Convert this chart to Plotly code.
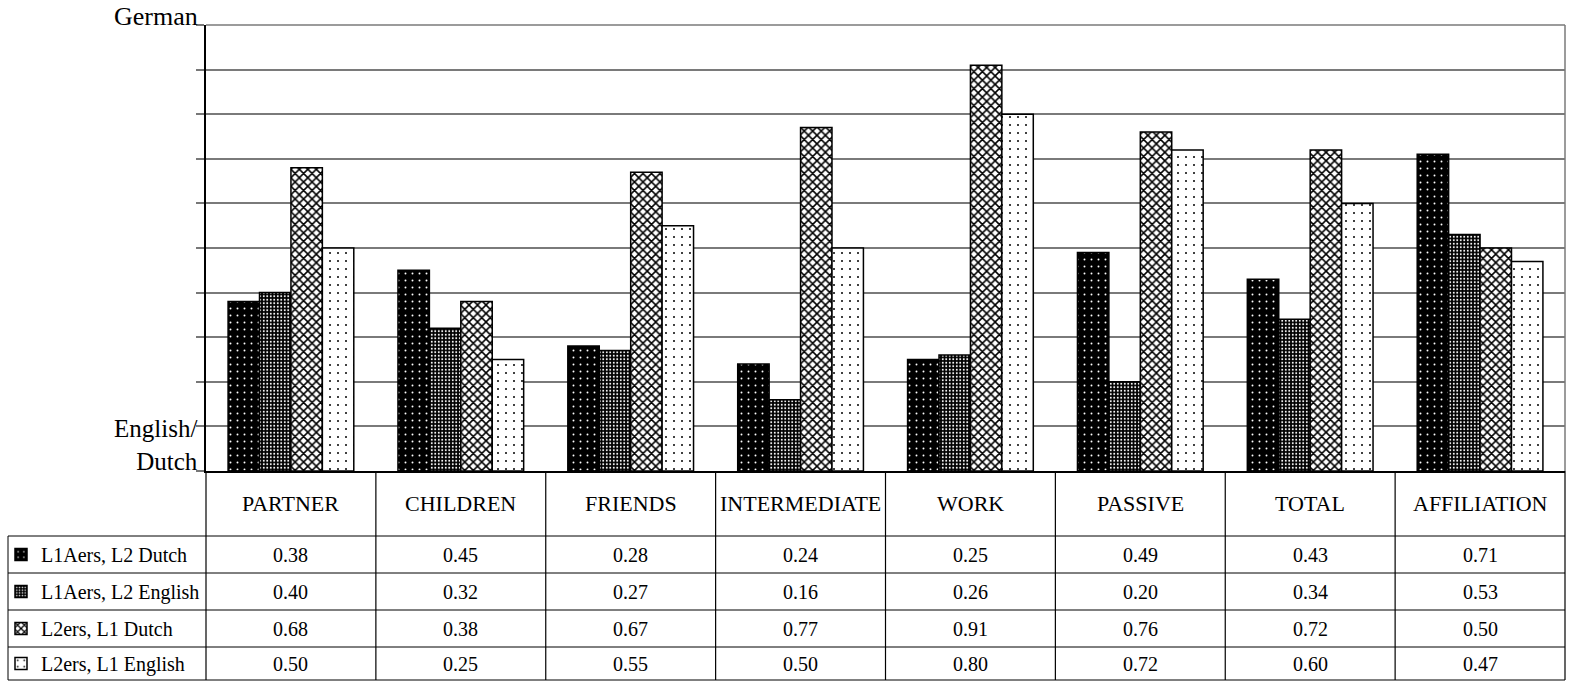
import plotly.graph_objects as go

categories = ["PARTNER", "CHILDREN", "FRIENDS", "INTERMEDIATE", "WORK", "PASSIVE", "TOTAL", "AFFILIATION"]
series_names = ["L1Aers, L2 Dutch", "L1Aers, L2 English", "L2ers, L1 Dutch", "L2ers, L1 English"]
l1a_l2_dutch = [0.38, 0.45, 0.28, 0.24, 0.25, 0.49, 0.43, 0.71]
l1a_l2_english = [0.40, 0.32, 0.27, 0.16, 0.26, 0.20, 0.34, 0.53]
l2_l1_dutch = [0.68, 0.38, 0.67, 0.77, 0.91, 0.76, 0.72, 0.50]
l2_l1_english = [0.50, 0.25, 0.55, 0.50, 0.80, 0.72, 0.60, 0.47]
series_values = [l1a_l2_dutch, l1a_l2_english, l2_l1_dutch, l2_l1_english]
y_top_label = "German"
y_bottom_label = "English/<br>Dutch"

W, H = 1569, 681
L, R, T, B = 206, 1565, 25, 471
FONT = "Liberation Serif"


def px_x(p):
    return (p - L) / (R - L)


def px_y(p):
    return (B - p) / (B - T)


patterns = [
    dict(shape=".", bgcolor="black", fgcolor="white", size=7, solidity=0.06, fillmode="replace"),
    dict(shape=".", bgcolor="black", fgcolor="white", size=3.5, solidity=0.25, fillmode="replace"),
    dict(shape="x", bgcolor="white", fgcolor="black", size=6, solidity=0.45, fillmode="replace"),
    dict(shape=".", bgcolor="white", fgcolor="black", size=8, solidity=0.05, fillmode="replace"),
]

row_centers = [554.5, 591.5, 628.5, 663.5]

fig = go.Figure()
for i, (name, vals) in enumerate(zip(series_names, series_values)):
    fig.add_trace(go.Bar(
        x=categories, y=vals, name=name,
        marker=dict(color="white", pattern=patterns[i], line=dict(color="black", width=1.5)),
        legend="legend" if i == 0 else f"legend{i+1}",
    ))

legend_common = dict(
    xanchor="left", yanchor="middle", bgcolor="rgba(0,0,0,0)", borderwidth=0,
    font=dict(family=FONT, size=20, color="black"), itemclick=False, itemdoubleclick=False,
)
layout_legends = {}
for i in range(4):
    key = "legend" if i == 0 else f"legend{i+1}"
    layout_legends[key] = dict(x=px_x(1), y=px_y(row_centers[i]), **legend_common)

fig.update_layout(
    width=W, height=H,
    margin=dict(l=L, r=W - R, t=T, b=H - B, pad=0, autoexpand=False),
    paper_bgcolor="white", plot_bgcolor="white",
    barmode="group", bargap=0.26, bargroupgap=0,
    showlegend=True,
    font=dict(family=FONT, color="black"),
    xaxis=dict(showticklabels=False, ticks="", showgrid=False, showline=True,
               linecolor="black", linewidth=2, range=[-0.5, len(categories) - 0.5]),
    yaxis=dict(range=[0, 1], tickvals=[i / 10 for i in range(11)], showticklabels=False,
               ticks="outside", ticklen=8, tickcolor="#777777", tickwidth=1.5,
               showgrid=True, gridcolor="#7a7a7a", gridwidth=1.5,
               showline=True, linecolor="black", linewidth=1.5, zeroline=False),
    **layout_legends,
)

shapes = []
shapes.append(dict(type="line", xref="paper", yref="paper", x0=0, x1=1, y0=1, y1=1,
                   line=dict(color="#7a7a7a", width=1.5)))
shapes.append(dict(type="line", xref="paper", yref="paper", x0=1, x1=1, y0=0, y1=1,
                   line=dict(color="#7a7a7a", width=1.5)))
for yy in [536, 573, 610, 647, 680]:
    shapes.append(dict(type="line", xref="paper", yref="paper", x0=px_x(8), x1=1,
                       y0=px_y(yy), y1=px_y(yy), line=dict(color="black", width=1)))
n = len(categories)
for k in range(n + 1):
    xx = k / n
    shapes.append(dict(type="line", xref="paper", yref="paper", x0=xx, x1=xx,
                       y0=0, y1=px_y(680), line=dict(color="black", width=1.2)))
shapes.append(dict(type="line", xref="paper", yref="paper", x0=px_x(8), x1=px_x(8),
                   y0=px_y(536), y1=px_y(680), line=dict(color="black", width=1)))
fig.update_layout(shapes=shapes)

ann = []
for c in categories:
    ann.append(dict(x=c, xref="x", y=px_y(503.5), yref="paper", text=c, showarrow=False,
                    xanchor="center", yanchor="middle", font=dict(family=FONT, size=22, color="black")))
for r, vals in enumerate(series_values):
    for c, v in zip(categories, vals):
        ann.append(dict(x=c, xref="x", y=px_y(row_centers[r]), yref="paper", text=f"{v:.2f}",
                        showarrow=False, xanchor="center", yanchor="middle",
                        font=dict(family=FONT, size=20, color="black")))
ann.append(dict(x=px_x(200), xref="paper", y=1, yref="paper", text=y_top_label, showarrow=False,
                xanchor="right", yanchor="bottom", yshift=-8,
                font=dict(family=FONT, size=26, color="black")))
ann.append(dict(x=px_x(200), xref="paper", y=0, yref="paper", text=y_bottom_label, showarrow=False,
                xanchor="right", yanchor="bottom", yshift=-6, align="right",
                font=dict(family=FONT, size=25, color="black")))
fig.update_layout(annotations=ann)

fig.write_html("out.html", config={"displayModeBar": False},
               post_script="document.body.style.margin='0';")
